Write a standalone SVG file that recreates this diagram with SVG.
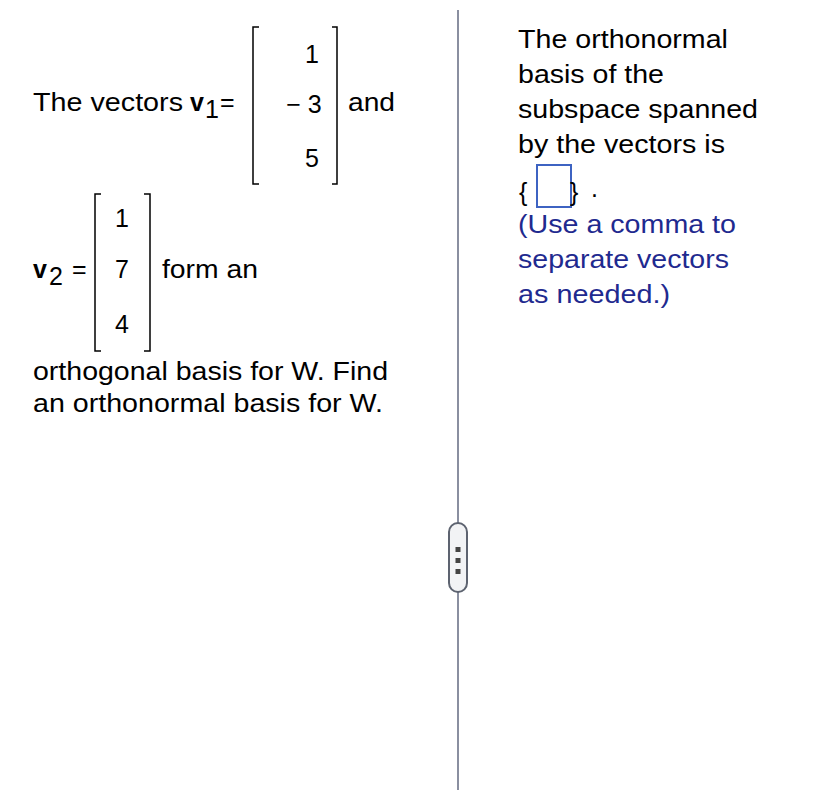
<svg xmlns="http://www.w3.org/2000/svg" width="821" height="790" viewBox="0 0 821 790">
<style>
text{font-family:"Liberation Sans",Arial,sans-serif;font-size:25px;fill:#000}
.b{fill:none;stroke:#000;stroke-width:1.5}
.blue{fill:#1f2a8f}
.n{text-anchor:middle}
</style>
<rect width="821" height="790" fill="#fff"/>
<g id="left">
<text x="33" y="111" textLength="150" lengthAdjust="spacingAndGlyphs">The vectors</text>
<text x="190" y="111" font-weight="bold">v</text>
<text x="205" y="118" font-size="20">1</text>
<text x="220" y="111">=</text>
<path class="b" d="M259 27H253V184H259M332 27H337V184H332"/>
<text class="n" x="312" y="63">1</text>
<text class="n" x="304" y="113">− 3</text>
<text class="n" x="312" y="167">5</text>
<text x="348" y="111" textLength="47" lengthAdjust="spacingAndGlyphs">and</text>
<text x="33" y="278" font-weight="bold">v</text>
<text x="49" y="285" font-size="20">2</text>
<text x="72" y="278">=</text>
<path class="b" d="M101 194H95V351H101M144 194H150V351H144"/>
<text class="n" x="122" y="227">1</text>
<text class="n" x="122" y="278">7</text>
<text class="n" x="122" y="333">4</text>
<text x="162" y="278" textLength="96" lengthAdjust="spacingAndGlyphs">form an</text>
<text x="33" y="380" textLength="355" lengthAdjust="spacingAndGlyphs">orthogonal basis for W. Find</text>
<text x="33" y="412" textLength="350" lengthAdjust="spacingAndGlyphs">an orthonormal basis for W.</text>
</g>
<g id="divider">
<line x1="458" y1="10" x2="458" y2="790" stroke="#8a8fa0" stroke-width="2"/>
<rect x="449" y="523" width="18" height="69" rx="9" fill="#f2f3f5" stroke="#5d6370" stroke-width="2"/>
<rect x="455.5" y="547" width="5" height="5" fill="#444"/>
<rect x="455.5" y="558" width="5" height="5" fill="#444"/>
<rect x="455.5" y="569" width="5" height="5" fill="#444"/>
</g>
<g id="right">
<text x="518" y="48" textLength="210" lengthAdjust="spacingAndGlyphs">The orthonormal</text>
<text x="518" y="83" textLength="146" lengthAdjust="spacingAndGlyphs">basis of the</text>
<text x="518" y="118" textLength="240" lengthAdjust="spacingAndGlyphs">subspace spanned</text>
<text x="518" y="153" textLength="207" lengthAdjust="spacingAndGlyphs">by the vectors is</text>
<text x="519" y="201" font-size="34">{</text>
<rect x="537" y="165" width="34" height="42" fill="#fff" stroke="#3d63c2" stroke-width="2"/>
<text x="570" y="201" font-size="34">}</text>
<text x="591" y="197">.</text>
<text class="blue" x="518" y="233" textLength="218" lengthAdjust="spacingAndGlyphs">(Use a comma to</text>
<text class="blue" x="518" y="268" textLength="211" lengthAdjust="spacingAndGlyphs">separate vectors</text>
<text class="blue" x="518" y="303" textLength="152" lengthAdjust="spacingAndGlyphs">as needed.)</text>
</g>
</svg>
